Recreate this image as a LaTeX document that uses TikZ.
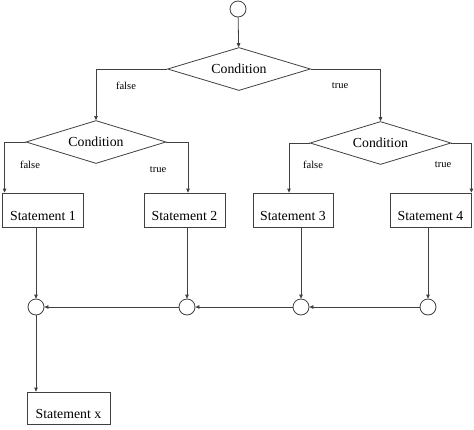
\documentclass[tikz,border=0pt]{standalone}
\usepackage{fontspec}
\setmainfont{Liberation Serif}
\usetikzlibrary{shapes.geometric,arrows.meta}
\begin{document}
\begin{tikzpicture}[x=1pt,y=-1pt,
  line/.style={draw=black!75, line width=0.8pt},
  arr/.style={line, -{Triangle[length=4pt,width=3.6pt]}},
  cond/.style={diamond, draw=black!75, line width=0.8pt, inner sep=0pt, shape aspect=3.4, minimum width=143pt, minimum height=43pt, font=\fontsize{13.8}{15}\selectfont},
  stbox/.style={rectangle, draw=black!75, line width=0.8pt, inner sep=0pt, minimum width=81pt, minimum height=34pt, text height=20pt, text depth=0pt, font=\fontsize{13.8}{15}\selectfont},
  junc/.style={circle, draw=black!75, line width=0.8pt, inner sep=0pt, minimum size=16pt},
  lab/.style={font=\fontsize{10.5}{12}\selectfont, inner sep=0pt}]
\useasboundingbox (0,0) rectangle (474,429);
\node[junc] (s) at (238,9) {};
\node[cond] (d0) at (239,69) {Condition};
\node[cond, minimum width=140pt] (d1) at (96,142) {Condition};
\node[cond, minimum width=141pt] (d2) at (380.5,143) {Condition};
\node[stbox] (st1) at (43,210) {Statement 1};
\node[stbox] (st2) at (184.5,210) {Statement 2};
\node[stbox, minimum width=80pt] (st3) at (293,210) {Statement 3};
\node[stbox] (st4) at (430.5,210) {Statement 4};
\node[junc] (c1) at (36,307) {};
\node[junc] (c2) at (187,307) {};
\node[junc] (c3) at (301,307) {};
\node[junc] (c4) at (428,307) {};
\node[stbox, minimum width=83pt, minimum height=32pt] (sx) at (68.5,408) {Statement x};
\draw[arr] (s) -- (d0);
\draw[arr] (d0.west) -| (d1.north);
\draw[arr] (d0.east) -| (d2.north);
\draw[arr] (d1.west) -| ([xshift=2.5pt]st1.north west);
\draw[arr] (d1.east) -| ([xshift=3.5pt]st2.north);
\draw[arr] (d2.west) -| ([xshift=-4pt]st3.north);
\draw[arr] (d2.east) -| (st4.north east);
\draw[arr] (st1.south -| c1) -- (c1);
\draw[arr] (st2.south -| c2) -- (c2);
\draw[arr] (st3.south -| c3) -- (c3);
\draw[arr] (st4.south -| c4) -- (c4);
\draw[arr] (c4) -- (c3);
\draw[arr] (c3) -- (c2);
\draw[arr] (c2) -- (c1);
\draw[arr] (c1) -- (sx.north -| c1);
\node[lab] (f0) at (126,86) {false};
\node[lab] (t0) at (340,86) {true};
\node[lab] (f1) at (30,165) {false};
\node[lab] (t1) at (158,170) {true};
\node[lab] (f2) at (313,165) {false};
\node[lab] (t2) at (443,165) {true};
\end{tikzpicture}
\end{document}
